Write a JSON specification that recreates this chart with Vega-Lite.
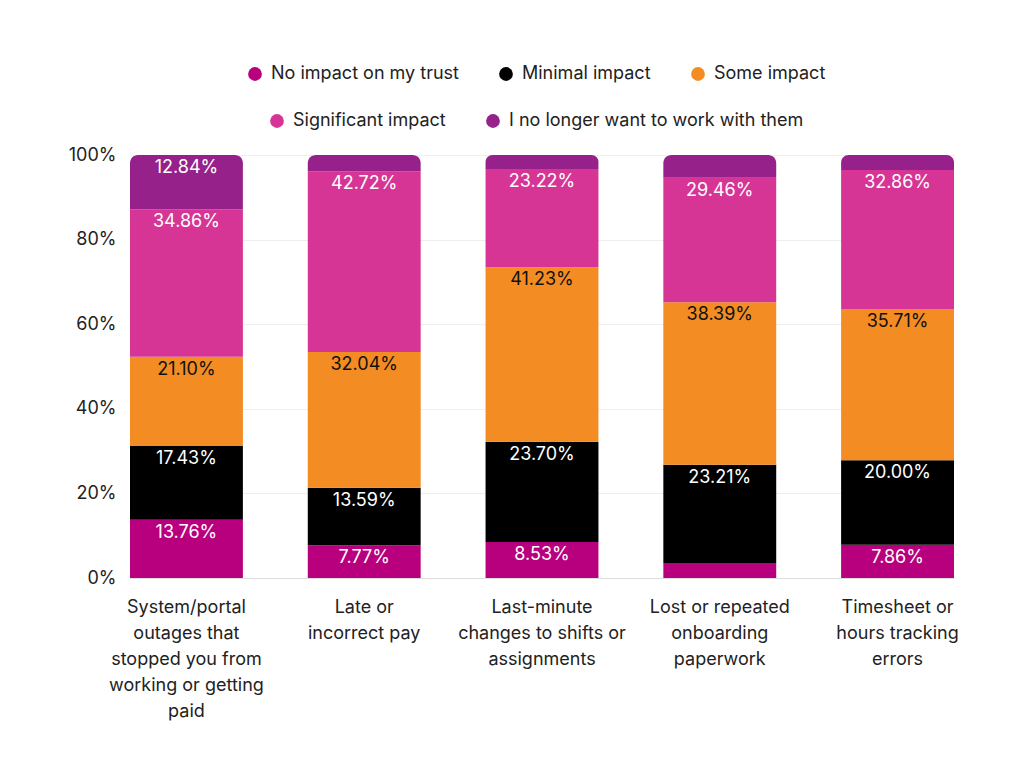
{
  "$schema": "https://vega.github.io/schema/vega-lite/v6.json",
  "width": 824,
  "height": 423,
  "autosize": {"type": "none"},
  "padding": {"left": 130, "top": 155, "right": 70, "bottom": 190},
  "background": "white",
  "config": {
    "font": "Inter",
    "view": {"stroke": null},
    "legend": {
      "title": null,
      "labelFontSize": 18,
      "labelColor": "#222222",
      "symbolType": "circle",
      "symbolSize": 190,
      "symbolStrokeWidth": 0,
      "labelOffset": 7,
      "columnPadding": 38,
      "padding": 0,
      "labelLimit": 400
    }
  },
  "data": {
    "values": [
      {"issue": "System/portal outages that stopped you from working or getting paid", "impact": "No impact on my trust", "value": 13.76},
      {"issue": "System/portal outages that stopped you from working or getting paid", "impact": "Minimal impact", "value": 17.43},
      {"issue": "System/portal outages that stopped you from working or getting paid", "impact": "Some impact", "value": 21.10},
      {"issue": "System/portal outages that stopped you from working or getting paid", "impact": "Significant impact", "value": 34.86},
      {"issue": "System/portal outages that stopped you from working or getting paid", "impact": "I no longer want to work with them", "value": 12.84},
      {"issue": "Late or incorrect pay", "impact": "No impact on my trust", "value": 7.77},
      {"issue": "Late or incorrect pay", "impact": "Minimal impact", "value": 13.59},
      {"issue": "Late or incorrect pay", "impact": "Some impact", "value": 32.04},
      {"issue": "Late or incorrect pay", "impact": "Significant impact", "value": 42.72},
      {"issue": "Late or incorrect pay", "impact": "I no longer want to work with them", "value": 3.88},
      {"issue": "Last-minute changes to shifts or assignments", "impact": "No impact on my trust", "value": 8.53},
      {"issue": "Last-minute changes to shifts or assignments", "impact": "Minimal impact", "value": 23.70},
      {"issue": "Last-minute changes to shifts or assignments", "impact": "Some impact", "value": 41.23},
      {"issue": "Last-minute changes to shifts or assignments", "impact": "Significant impact", "value": 23.22},
      {"issue": "Last-minute changes to shifts or assignments", "impact": "I no longer want to work with them", "value": 3.32},
      {"issue": "Lost or repeated onboarding paperwork", "impact": "No impact on my trust", "value": 3.57},
      {"issue": "Lost or repeated onboarding paperwork", "impact": "Minimal impact", "value": 23.21},
      {"issue": "Lost or repeated onboarding paperwork", "impact": "Some impact", "value": 38.39},
      {"issue": "Lost or repeated onboarding paperwork", "impact": "Significant impact", "value": 29.46},
      {"issue": "Lost or repeated onboarding paperwork", "impact": "I no longer want to work with them", "value": 5.37},
      {"issue": "Timesheet or hours tracking errors", "impact": "No impact on my trust", "value": 7.86},
      {"issue": "Timesheet or hours tracking errors", "impact": "Minimal impact", "value": 20.00},
      {"issue": "Timesheet or hours tracking errors", "impact": "Some impact", "value": 35.71},
      {"issue": "Timesheet or hours tracking errors", "impact": "Significant impact", "value": 32.86},
      {"issue": "Timesheet or hours tracking errors", "impact": "I no longer want to work with them", "value": 3.57}
    ]
  },
  "transform": [
    {"calculate": "indexof(['No impact on my trust', 'Minimal impact', 'Some impact', 'Significant impact', 'I no longer want to work with them'], datum.impact)", "as": "order"},
    {"stack": "value", "groupby": ["issue"], "sort": [{"field": "order", "order": "ascending"}], "as": ["y0", "y1"]},
    {"calculate": "format(datum.value, '.2f') + '%'", "as": "label"}
  ],
  "encoding": {
    "x": {
      "field": "issue",
      "type": "nominal",
      "sort": null,
      "scale": {"paddingInner": 0.365, "paddingOuter": 0},
      "axis": {
        "title": null,
        "labelAngle": 0,
        "ticks": false,
        "domain": true,
        "domainColor": "#dddddd",
        "labelPadding": 29,
        "labelFontSize": 18,
        "labelLineHeight": 26,
        "labelBaseline": "middle",
        "labelColor": "#222222",
        "labelLimit": 220,
        "labelExpr": "datum.value == 'System/portal outages that stopped you from working or getting paid' ? ['System/portal', 'outages that', 'stopped you from', 'working or getting', 'paid'] : datum.value == 'Late or incorrect pay' ? ['Late or', 'incorrect pay'] : datum.value == 'Last-minute changes to shifts or assignments' ? ['Last-minute', 'changes to shifts or', 'assignments'] : datum.value == 'Lost or repeated onboarding paperwork' ? ['Lost or repeated', 'onboarding', 'paperwork'] : ['Timesheet or', 'hours tracking', 'errors']"
      }
    }
  },
  "layer": [
    {
      "transform": [{"filter": "datum.impact !== 'I no longer want to work with them'"}],
      "mark": {"type": "bar"},
      "encoding": {
        "y": {
          "field": "y0",
          "type": "quantitative",
          "scale": {"domain": [0, 100]},
          "axis": {
            "title": null,
            "values": [0, 20, 40, 60, 80, 100],
            "labelExpr": "datum.value + '%'",
            "grid": true,
            "gridColor": "#eeeeee",
            "domain": false,
            "ticks": false,
            "labelPadding": 14,
            "labelFontSize": 18,
            "labelColor": "#222222"
          }
        },
        "y2": {"field": "y1"},
        "color": {
          "field": "impact",
          "type": "nominal",
          "scale": {
            "domain": ["No impact on my trust", "Minimal impact", "Some impact", "Significant impact", "I no longer want to work with them"],
            "range": ["#b8007e", "#000000", "#f28c23", "#d63596", "#97218a"]
          },
          "legend": {
            "values": ["No impact on my trust", "Minimal impact", "Some impact"],
            "orient": "none",
            "direction": "horizontal",
            "legendX": 116,
            "legendY": -90
          }
        }
      }
    },
    {
      "transform": [{"filter": "datum.impact === 'I no longer want to work with them'"}],
      "mark": {"type": "bar", "cornerRadiusTopLeft": 8, "cornerRadiusTopRight": 8},
      "encoding": {
        "y": {"field": "y0", "type": "quantitative", "title": null},
        "y2": {"field": "y1"},
        "color": {
          "field": "impact",
          "type": "nominal",
          "scale": {
            "domain": ["No impact on my trust", "Minimal impact", "Some impact", "Significant impact", "I no longer want to work with them"],
            "range": ["#b8007e", "#000000", "#f28c23", "#d63596", "#97218a"]
          },
          "legend": {
            "values": ["Significant impact", "I no longer want to work with them"],
            "orient": "none",
            "direction": "horizontal",
            "legendX": 138,
            "legendY": -43
          }
        }
      }
    },
    {
      "transform": [{"filter": "datum.value >= 6"}],
      "mark": {"type": "text", "baseline": "middle", "align": "center", "dy": 13, "fontSize": 18},
      "encoding": {
        "y": {"field": "y1", "type": "quantitative", "title": null},
        "text": {"field": "label"},
        "color": {
          "condition": {"test": "datum.impact === 'Some impact'", "value": "#111111"},
          "value": "#ffffff"
        }
      }
    }
  ],
  "resolve": {"scale": {"color": "independent"}}
}
